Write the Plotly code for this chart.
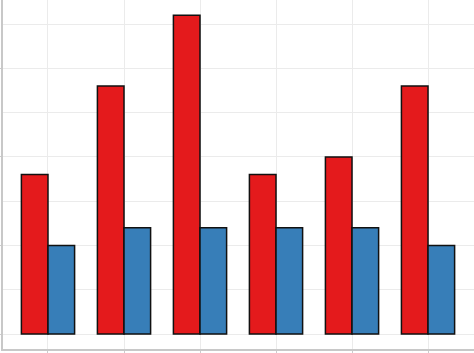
import plotly.graph_objects as go

categories = ["G1", "G2", "G3", "G4", "G5", "G6"]
red_values = [9, 14, 18, 9, 10, 14]
blue_values = [5, 6, 6, 6, 6, 5]

fig = go.Figure()
fig.add_trace(go.Bar(x=categories, y=red_values, marker=dict(color="#e41a1c", line=dict(color="#111111", width=1.5))))
fig.add_trace(go.Bar(x=categories, y=blue_values, marker=dict(color="#377eb8", line=dict(color="#111111", width=1.5))))

fig.update_layout(
    width=474, height=353,
    margin=dict(l=3, r=0, t=0, b=4),
    barmode="group", bargap=0.3, bargroupgap=0,
    showlegend=False,
    plot_bgcolor="white", paper_bgcolor="white",
)
fig.update_xaxes(
    type="category", range=[-0.592, 5.605],
    showticklabels=False, ticks="outside", ticklen=4, tickcolor="#cccccc",
    showgrid=True, gridcolor="#ebebeb", gridwidth=1,
    showline=True, linecolor="#c8c8c8", linewidth=2,
    zeroline=False,
)
fig.update_yaxes(
    range=[-0.847, 18.86], dtick=5, tick0=0,
    showticklabels=False, ticks="outside", ticklen=3, tickcolor="#cccccc",
    showgrid=True, gridcolor="#ebebeb", gridwidth=1,
    minor=dict(dtick=2.5, showgrid=True, gridcolor="#ebebeb"),
    showline=True, linecolor="#c8c8c8", linewidth=2,
    zeroline=False,
)
fig.write_html("out.html")
